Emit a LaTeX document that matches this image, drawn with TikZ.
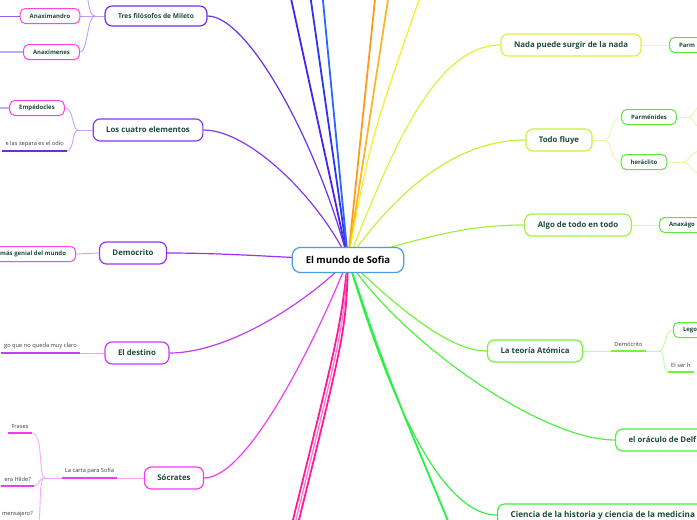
\documentclass[tikz,border=0pt]{standalone}
\usepackage{fontspec}
\setmainfont{Open Sans}
\usetikzlibrary{backgrounds}
\definecolor{txtgreen}{HTML}{1D4A3C}
\definecolor{txtgray}{HTML}{3A3A3A}
\definecolor{rootblue}{HTML}{4A9BE0}
\definecolor{cTres}{HTML}{6A2EF0}
\definecolor{cCuatro}{HTML}{8438F0}
\definecolor{cDemo}{HTML}{A030F0}
\definecolor{cDestino}{HTML}{C43CF2}
\definecolor{cSoc}{HTML}{F23CF0}
\definecolor{cPink}{HTML}{FF1A9C}
\definecolor{cBlueA}{HTML}{4A22F0}
\definecolor{cBlueB}{HTML}{2E34F2}
\definecolor{cBlueC}{HTML}{2A66FF}
\definecolor{cOrA}{HTML}{FF9A1E}
\definecolor{cOrB}{HTML}{FFB52A}
\definecolor{cYel}{HTML}{F8EE1E}
\definecolor{cNada}{HTML}{DCF23C}
\definecolor{cTodo}{HTML}{C4F23C}
\definecolor{cAlgo}{HTML}{A2F23C}
\definecolor{cTeoria}{HTML}{74F23C}
\definecolor{cOrac}{HTML}{4CF23C}
\definecolor{cCien}{HTML}{36F040}
\definecolor{cGreen}{HTML}{22F046}
\definecolor{subpink}{HTML}{FF44E0}
\definecolor{subgreen}{HTML}{5AE83C}

\begin{document}
\begin{tikzpicture}[x=1pt, y=-1pt,
    rootbox/.style={draw=rootblue, line width=1.2pt, fill=white, rounded corners=8pt,
      font=\bfseries\fontsize{9.5}{11}\selectfont, minimum height=25pt, inner xsep=13.5pt},
    topic/.style={draw=#1, line width=1.2pt, fill=white, rounded corners=7pt,
      font=\bfseries\fontsize{7.8}{9}\selectfont, text=txtgreen, minimum height=22pt, inner xsep=13pt},
    subtopic/.style={draw=#1, line width=1pt, fill=white, rounded corners=5pt,
      font=\bfseries\fontsize{6}{7}\selectfont, text=txtgreen, minimum height=15pt, inner xsep=9.5pt, inner ysep=1pt},
    ultext/.style={font=\fontsize{5.7}{7}\selectfont, text=txtgray, minimum height=13pt, inner xsep=3pt, inner ysep=1pt},
    uline/.style={line width=1.6pt, draw=#1},
    link/.style={line width=1.2pt, draw=#1},
    thicklink/.style={line width=1.8pt, draw=#1},
    sublink/.style={line width=.9pt, draw=#1!45}]
  \useasboundingbox (0,0) rectangle (697,520);

  \node (root) at (348,260) [rootbox] {El mundo de Sofia};

  \node (tres) at (156,16) [topic=cTres, font=\bfseries\fontsize{6.6}{8}\selectfont, minimum height=20pt] {Tres filósofos de Mileto};
  \node (cuatro) at (148,130) [topic=cCuatro] {Los cuatro elementos};
  \node (demo) at (133,253) [topic=cDemo] {Democrito};
  \node (destino) at (137,353) [topic=cDestino] {El destino};
  \node (socrates) at (174,478) [topic=cSoc] {Sócrates};
  \node (nada) at (571,45) [topic=cNada] {Nada puede surgir de la nada};
  \node (todo) at (559,140) [topic=cTodo] {Todo fluye};
  \node (algo) at (578,225) [topic=cAlgo] {Algo de todo en todo};
  \node (teoria) at (535,351) [topic=cTeoria] {La teoría Atómica};
  \node (oraculo) at (615,440) [topic=cOrac, anchor=west] {el oráculo de Delf\hspace{40pt}};
  \node (ciencia) at (497,515) [topic=cCien, anchor=west, font=\bfseries\fontsize{8.2}{9}\selectfont] {Ciencia de la historia y ciencia de la medicina\hspace{30pt}};

  \node (anaximandro) at (50,16) [subtopic=subpink] {Anaximandro};
  \node (anaximenes) at (51.5,52) [subtopic=subpink] {Anaxímenes};
  \node (empedocles) at (37,108) [subtopic=subpink] {Empédocles};
  \node (genial) at (76,254) [subtopic=subpink, anchor=east] {más genial del mundo};
  \node (parm) at (669,45) [subtopic=subgreen, anchor=west] {Parm\hspace{30pt}};
  \node (parmenides) at (649,117) [subtopic=subgreen] {Parménides};
  \node (heraclito) at (644,162) [subtopic=subgreen] {heráclito};
  \node (anaxagoras) at (659,225) [subtopic=subgreen, anchor=west] {Anaxágo\hspace{30pt}};
  \node (lego) at (673,330) [subtopic=subgreen, anchor=west] {Lego\hspace{30pt}};

  \node (odio) at (67,151) [ultext, anchor=south east] {e las separa es el odio};
  \node (claro) at (80,353) [ultext, anchor=south east] {go que no queda muy claro};
  \node (carta) at (89.5,478) [ultext, anchor=south] {La carta para Sofía};
  \node (frases) at (20,433) [ultext, anchor=south] {Frases};
  \node (hilde) at (34,486) [ultext, anchor=south east] {era Hilde?};
  \node (mensajero) at (36,521) [ultext, anchor=south east] {mensajero?};
  \node (democrito) at (628.5,351) [ultext, anchor=south] {Demócrito};
  \node (ser) at (668,372) [ultext, anchor=south west] {El ser h\hspace{30pt}};

  \coordinate (jtres) at (95,16);
  \coordinate (jcuatro) at (78,130);
  \coordinate (jsoc) at (45,478);
  \coordinate (jtodo) at (605,140);
  \coordinate (jparm) at (689,117);
  \coordinate (jhera) at (683,162);
  \coordinate (jteoria) at (659,351);

  \coordinate (offBlueA) at (287,-20);
  \coordinate (offBlueB) at (308,-20);
  \coordinate (offBlueC) at (321,-20);
  \coordinate (offOrA) at (377,-20);
  \coordinate (offOrB) at (391,-20);
  \coordinate (offYel) at (426,-20);
  \coordinate (offPinkA) at (288,540);
  \coordinate (offPinkB) at (291,540);
  \coordinate (offPinkC) at (294,540);
  \coordinate (offGreen) at (456,540);
  \coordinate (offTres) at (82,-20);
  \coordinate (offMandro) at (-10,16);
  \coordinate (offMenes) at (-10,52);
  \coordinate (offEmpe) at (-10,108);
  \coordinate (offSoc) at (38,530);
  \coordinate (offParmA) at (705,105);
  \coordinate (offParmB) at (705,129);
  \coordinate (offHeraA) at (705,150);
  \coordinate (offHeraB) at (705,174);

  \draw[uline=cCuatro!85!black] (odio.south west) -- (odio.south east);
  \draw[uline=cDestino] (claro.south west) -- (claro.south east);
  \draw[uline=cSoc] (carta.south west) -- (carta.south east);
  \draw[uline=cSoc] (frases.south west) -- (frases.south east);
  \draw[uline=cSoc] (hilde.south west) -- (hilde.south east);
  \draw[uline=cTeoria] (democrito.south west) -- (democrito.south east);
  \draw[uline=cTeoria] (ser.south west) -- (ser.south east);

  \begin{pgfonlayer}{background}
    \draw[thicklink=cBlueA] (root.center) -- (offBlueA);
    \draw[thicklink=cBlueB] (root.center) -- (offBlueB);
    \draw[thicklink=cBlueC] (root.center) -- (offBlueC);
    \draw[thicklink=cOrA] (root.center) -- (offOrA);
    \draw[thicklink=cOrB] (root.center) -- (offOrB);
    \draw[link=cYel] (root.center) .. controls (370,140) .. (offYel);
    \draw[thicklink=cPink] (root.center) .. controls (340,330) .. (offPinkA);
    \draw[link=cPink!60] (root.center) .. controls (343,330) .. (offPinkB);
    \draw[thicklink=cPink] (root.center) .. controls (346,330) .. (offPinkC);
    \draw[thicklink=cGreen] (root.center) .. controls (385,370) .. (offGreen);

    \draw[link=cTres] (tres.east) .. controls (250,16) and (320,150) .. (root.center);
    \draw[link=cCuatro] (cuatro.east) .. controls (250,130) and (320,200) .. (root.center);
    \draw[link=cDemo] (demo.east) .. controls (230,253) and (290,258) .. (root.center);
    \draw[link=cDestino] (destino.east) .. controls (230,353) and (310,300) .. (root.center);
    \draw[link=cSoc] (socrates.east) .. controls (250,478) and (320,330) .. (root.center);
    \draw[link=cNada] (root.center) .. controls (385,170) and (430,45) .. (nada.west);
    \draw[link=cTodo] (root.center) .. controls (390,200) and (450,140) .. (todo.west);
    \draw[link=cAlgo] (root.center) .. controls (430,235) and (470,225) .. (algo.west);
    \draw[link=cTeoria] (root.center) .. controls (400,310) and (450,351) .. (teoria.west);
    \draw[link=cOrac] (root.center) .. controls (400,340) and (540,440) .. (oraculo.west);
    \draw[link=cCien] (root.center) .. controls (375,350) and (430,515) .. (ciencia.west);

    \draw[sublink=cTres] (tres.west) -- (jtres);
    \draw[sublink=cTres] (jtres) .. controls (87,16) and (88,16) .. (anaximandro.east);
    \draw[sublink=cTres] (jtres) .. controls (87,16) and (88,52) .. (anaximenes.east);
    \draw[sublink=cTres] (jtres) .. controls (87,16) and (90,-5) .. (offTres);
    \draw[line width=.9pt, cTres!75] (anaximandro.west) -- (offMandro);
    \draw[line width=2pt, cTres!40] (anaximenes.west) -- (offMenes);
    \draw[line width=1.4pt, cTres!40] (empedocles.west) -- (offEmpe);

    \draw[sublink=cCuatro] (cuatro.west) -- (jcuatro);
    \draw[sublink=cCuatro] (jcuatro) .. controls (72,130) and (74,108) .. (empedocles.east);
    \draw[sublink=cCuatro] (jcuatro) .. controls (72,130) and (74,151) .. (odio.south east);

    \draw[sublink=cDemo] (demo.west) -- (genial.east);
    \draw[sublink=cDestino] (destino.west) -- (claro.south east);

    \draw[sublink=cSoc] (socrates.west) -- (carta.south east);
    \draw[sublink=cSoc] (carta.south west) -- (jsoc);
    \draw[sublink=cSoc] (jsoc) .. controls (38,478) and (44,433) .. (frases.south east);
    \draw[sublink=cSoc] (jsoc) .. controls (38,478) and (40,486) .. (hilde.south east);
    \draw[sublink=cSoc] (jsoc) .. controls (38,478) and (42,505) .. (offSoc);

    \draw[sublink=cNada] (nada.east) -- (parm.west);
    \draw[sublink=cTodo] (todo.east) -- (jtodo);
    \draw[sublink=cTodo] (jtodo) .. controls (612,140) and (610,117) .. (parmenides.west);
    \draw[sublink=cTodo] (jtodo) .. controls (612,140) and (610,162) .. (heraclito.west);
    \draw[sublink=cTodo] (parmenides.east) -- (jparm);
    \draw[sublink=cTodo] (jparm) .. controls (695,117) and (693,105) .. (offParmA);
    \draw[sublink=cTodo] (jparm) .. controls (695,117) and (693,129) .. (offParmB);
    \draw[sublink=cTodo] (heraclito.east) -- (jhera);
    \draw[sublink=cTodo] (jhera) .. controls (690,162) and (690,150) .. (offHeraA);
    \draw[sublink=cTodo] (jhera) .. controls (690,162) and (690,174) .. (offHeraB);
    \draw[sublink=cAlgo] (algo.east) -- (anaxagoras.west);

    \draw[sublink=cTeoria] (teoria.east) -- (democrito.south west);
    \draw[sublink=cTeoria] (democrito.south east) -- (jteoria);
    \draw[sublink=cTeoria] (jteoria) .. controls (666,351) and (664,330) .. (lego.west);
    \draw[sublink=cTeoria] (jteoria) .. controls (666,351) and (662,372) .. (ser.south west);
  \end{pgfonlayer}
\end{tikzpicture}
\end{document}
